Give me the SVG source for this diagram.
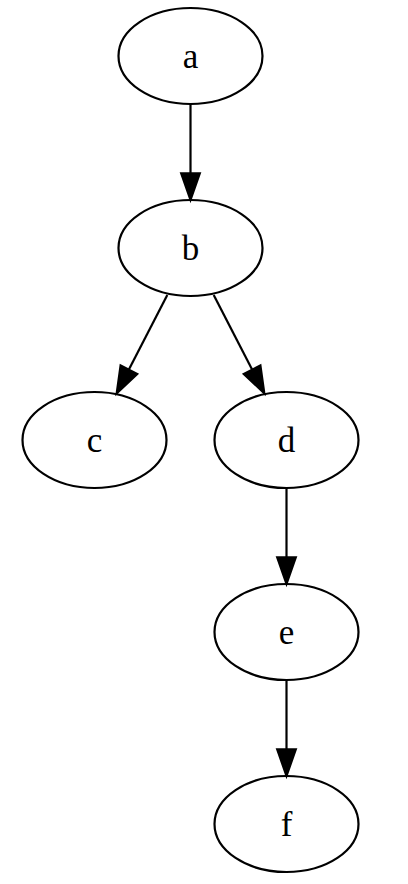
<svg xmlns="http://www.w3.org/2000/svg" width="408" height="884" viewBox="0 0 408 884">
<style>
.node ellipse{fill:none;stroke:#000;stroke-width:2.2}
.node text{font-family:"Liberation Serif","Times New Roman",serif;font-size:35px;text-anchor:middle;fill:#000}
.edge path{fill:none;stroke:#000;stroke-width:2.2}
.edge polygon{fill:#000;stroke:#000;stroke-width:2.2}
</style>
<rect width="408" height="884" fill="#fff"/>
<g id="edges">
<g class="edge" id="a-b"><path d="M190.5,104 L190.5,173.3"/><polygon points="181.2,173.3 199.8,173.3 190.5,200"/></g>
<g class="edge" id="b-c"><path d="M167.3,295 L128.9,369.6"/><polygon points="137.2,373.9 120.6,365.4 116.7,393.3"/></g>
<g class="edge" id="b-d"><path d="M213.7,295 L252.1,369.6"/><polygon points="243.8,373.9 260.4,365.4 264.3,393.3"/></g>
<g class="edge" id="d-e"><path d="M286.5,488 L286.5,557.3"/><polygon points="277.2,557.3 295.8,557.3 286.5,584"/></g>
<g class="edge" id="e-f"><path d="M286.5,680 L286.5,749.3"/><polygon points="277.2,749.3 295.8,749.3 286.5,776"/></g>
</g>
<g class="node" id="a"><ellipse cx="190.5" cy="56" rx="72" ry="48"/><text x="190.5" y="67.5">a</text></g>
<g class="node" id="b"><ellipse cx="190.5" cy="248" rx="72" ry="48"/><text x="190.5" y="259.5">b</text></g>
<g class="node" id="c"><ellipse cx="94.5" cy="440" rx="72" ry="48"/><text x="94.5" y="451.5">c</text></g>
<g class="node" id="d"><ellipse cx="286.5" cy="440" rx="72" ry="48"/><text x="286.5" y="451.5">d</text></g>
<g class="node" id="e"><ellipse cx="286.5" cy="632" rx="72" ry="48"/><text x="286.5" y="643.5">e</text></g>
<g class="node" id="f"><ellipse cx="286.5" cy="824" rx="72" ry="48"/><text x="286.5" y="835.5">f</text></g>
</svg>
